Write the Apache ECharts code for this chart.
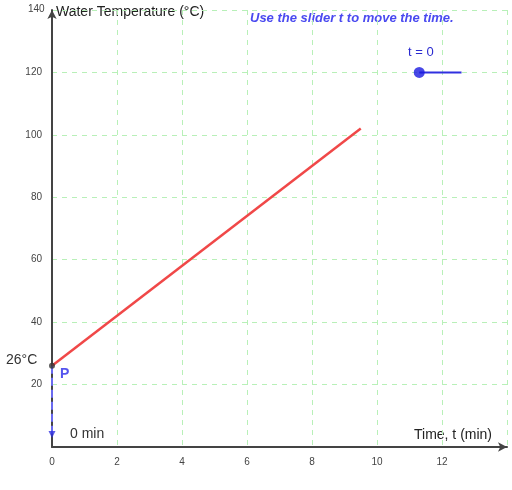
<!DOCTYPE html>
<html><head><meta charset="utf-8">
<script src="https://cdn.jsdelivr.net/npm/echarts@6/dist/echarts.min.js"></script>
<style>html,body{margin:0;background:#fff}#c{width:512px;height:490px}</style>
</head><body><div id="c"></div>
<script>
// 数据
var timeMin = [0, 9.5];
var tempC = [26, 102];
var sliderX = [11.3, 12.6];
var sliderY = [120, 120];
var xTicks = [0, 2, 4, 6, 8, 10, 12];
var yTicks = [20, 40, 60, 80, 100, 120, 140];

var chart = echarts.init(document.getElementById('c'));
var grid = { lineStyle: { color: '#b8f0b8', type: [5, 5], width: 1 } };
chart.setOption({
    animation: false,
    grid: { left: 52, right: 5, top: 10, bottom: 43 },
    xAxis: {
        type: 'value', min: 0, max: 14, interval: 2,
        axisLine: { onZero: false, lineStyle: { color: '#444', width: 2 }, symbol: ['none', 'arrow'], symbolSize: [7, 9] },
        axisTick: { show: false },
        splitLine: grid,
        axisLabel: { color: '#444', fontSize: 10, margin: 10, formatter: function (v) { return xTicks.indexOf(v) >= 0 ? v : ''; } }
    },
    yAxis: {
        type: 'value', min: 0, max: 140, interval: 20,
        axisLine: { show: true, lineStyle: { color: '#444', width: 2 }, symbol: ['none', 'arrow'], symbolSize: [7, 9] },
        axisTick: { show: false },
        splitLine: grid,
        axisLabel: { color: '#444', fontSize: 10, margin: 10, formatter: function (v) { return (yTicks.indexOf(v) >= 0 && v < 140) ? v : ''; } }
    },
    graphic: [
        { type: 'text', left: 28, top: 4, style: { text: '140', fontSize: 10, fill: '#444' } },
        { type: 'text', left: 56, top: 5, style: { text: 'Water Temperature (°C)', fontSize: 14, fill: '#222', fontFamily: 'Liberation Sans' } },
        { type: 'text', left: 250, top: 12, style: { text: 'Use the slider t to move the time.', fontSize: 13, fontStyle: 'italic', fontWeight: 'bold', fill: '#4a4af0', fontFamily: 'Liberation Sans' } },
        { type: 'text', left: 408, top: 46, style: { text: 't = 0', fontSize: 13, fill: '#2a2ad0', fontFamily: 'Liberation Sans' } },
        { type: 'text', left: 414, top: 428, style: { text: 'Time, t (min)', fontSize: 14, fill: '#222', fontFamily: 'Liberation Sans' } },
        { type: 'text', left: 6, top: 353, style: { text: '26°C', fontSize: 14, fill: '#333', fontFamily: 'Liberation Sans' } },
        { type: 'text', left: 60, top: 367, style: { text: 'P', fontSize: 14, fontWeight: 'bold', fill: '#5555ee', fontFamily: 'Liberation Sans' } },
        { type: 'text', left: 70, top: 427, style: { text: '0 min', fontSize: 14, fill: '#333', fontFamily: 'Liberation Sans' } }
    ],
    series: [{
        type: 'line', data: timeMin.map(function (t, i) { return [t, tempC[i]]; }),
        symbol: 'none', lineStyle: { color: '#f04848', width: 2.5 }, z: 3
    }, {
        // P 到横轴的虚线
        type: 'line', data: [[timeMin[0], tempC[0]], [timeMin[0], 3]],
        symbol: 'none',
        lineStyle: { color: '#6a6af0', type: 'dashed', width: 2 }, z: 4
    }, {
        type: 'scatter', data: [[timeMin[0], tempC[0]]], symbolSize: 6,
        itemStyle: { color: '#333' }, z: 5
    }, {
        type: 'scatter', data: [[timeMin[0], 4]], symbol: 'triangle', symbolRotate: 180, symbolSize: 7,
        itemStyle: { color: '#3030e0' }, z: 5
    }, {
        // 滑块
        type: 'line', data: sliderX.map(function (x, i) { return [x, sliderY[i]]; }),
        symbol: 'none', lineStyle: { color: '#3030e0', width: 2 }
    }, {
        type: 'scatter', data: [[sliderX[0], sliderY[0]]], symbolSize: 11,
        itemStyle: { color: '#1a1ae0' }, z: 5
    }]
});
</script></body></html>
